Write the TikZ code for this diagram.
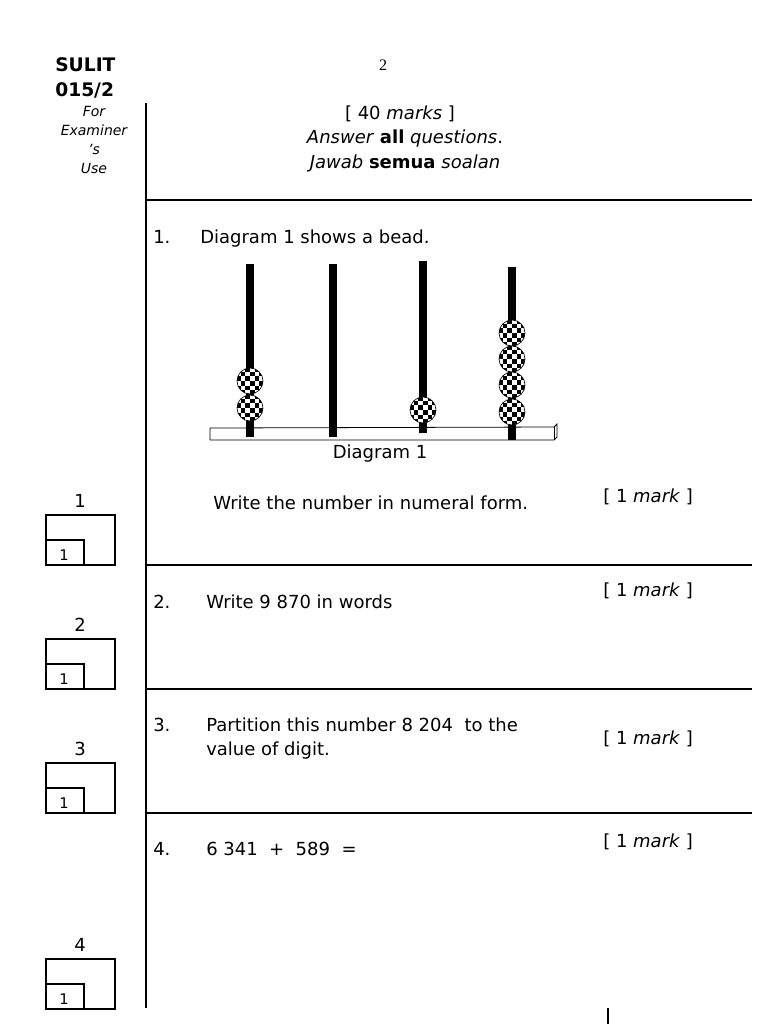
\documentclass[tikz,border=0pt]{standalone}
\usepackage{fontspec}
\setmainfont{DejaVu Sans}
\newfontfamily\serifx{Liberation Serif}
\begin{document}
\begin{tikzpicture}[x=0.75pt,y=-0.75pt,
  txt/.style={anchor=base west,inner sep=0pt,font=\fontsize{13.5}{15}\selectfont},
  ctxt/.style={anchor=base,inner sep=0pt,font=\fontsize{13.5}{15}\selectfont},
  small/.style={anchor=base,inner sep=0pt,font=\fontsize{10.5}{12}\selectfont\itshape},
  rule/.style={line width=1.2pt},
  rod/.style={line width=6pt}]
\useasboundingbox (0,0) rectangle (768,1024);
\newcommand{\mybead}[2]{%
  \begin{scope}
  \clip (#1,#2) circle (13);
  \fill[white] (#1,#2) circle (13);
  \foreach \i in {-3,...,2}{\foreach \j in {-3,...,2}{%
    \pgfmathtruncatemacro{\bpar}{mod(\i+\j+6,2)}%
    \ifnum\bpar=0 \fill[black] ({#1+\i*4.6},{#2+\j*4.6}) rectangle ++(4.6,4.6);\fi}}
  \end{scope}
  \draw[line width=0.5pt] (#1,#2) circle (13);}
% header
\node[anchor=base west,inner sep=0pt,font=\fontsize{14}{16}\selectfont\bfseries] (s1) at (55,72) {SULIT};
\node[anchor=base west,inner sep=0pt,font=\fontsize{14}{16}\selectfont\bfseries] (s2) at (55,97) {015/2};
\node[anchor=base,inner sep=0pt,font=\serifx\fontsize{12}{14}\selectfont] (pg) at (383,70) {2};
\node[small] (f1) at (94,116) {For};
\node[small] (f2) at (94,135) {Examiner};
\node[small] (f3) at (94,154) {'s};
\node[small] (f4) at (94,173) {Use};
\node[ctxt] (h1) at (400,119) {[ 40 \textit{marks} ]};
\node[ctxt] (h2) at (405,143) {\textit{Answer} \textbf{all} \textit{questions}.};
\node[ctxt] (h3) at (405,168) {\textit{Jawab} \textbf{semua} \textit{soalan}};
% lines
\draw[rule] (146,103) -- (146,1008);
\foreach \yy in {200,565,689,813} \draw[rule] (146,\yy) -- (752,\yy);
\draw[line width=1pt] (608,1008) -- (608,1024);
% examiner boxes
\foreach \n/\yt in {1/515,2/639,3/763,4/959}{
  \node[ctxt] at (80,\yt-8) {\n};
  \draw[line width=0.9pt] (46,\yt) rectangle (115,\yt+50);
  \draw[line width=0.9pt] (46,\yt+25) rectangle (84,\yt+50);
  \node[anchor=base,inner sep=0pt,font=\fontsize{11}{12}\selectfont] at (64,\yt+45) {1};
}
% question 1
\node[txt] (q1n) at (153,243) {1.};
\node[txt] (q1t) at (200,243) {Diagram 1 shows a bead.};
% abacus
\draw[line width=0.6pt,fill=white] (210,428) -- (554,427) -- (557,424) -- (557,437) -- (554,440) -- (210,440) -- cycle;
\draw[line width=0.6pt] (554,427) -- (554,440);
\draw[rod] (250,264) -- (250,437);
\draw[rod] (333,264) -- (333,437);
\draw[rod] (423,261) -- (423,433);
\draw[rod] (512,267) -- (512,440);
\mybead{250}{381}\mybead{250}{408}
\mybead{423}{410}
\mybead{512}{333}\mybead{512}{359}\mybead{512}{385}\mybead{512}{412}
\node[ctxt] (d1) at (380,458) {Diagram 1};
\node[txt] (q1w) at (213,509) {Write the number in numeral form.};
\node[txt] (m1) at (603,502) {[ 1 \textit{mark} ]};
% q2
\node[txt] (q2n) at (153,608) {2.};
\node[txt] (q2t) at (206,608) {Write 9 870 in words};
\node[txt] (m2) at (603,596) {[ 1 \textit{mark} ]};
% q3
\node[txt] (q3n) at (153,731) {3.};
\node[txt] (q3t) at (206,731) {Partition this number 8 204 \ to the};
\node[txt] (q3u) at (206,755) {value of digit.};
\node[txt] (m3) at (603,744) {[ 1 \textit{mark} ]};
% q4
\node[txt] (q4n) at (153,855) {4.};
\node[txt] (q4t) at (206,855) {6 341 \ + \ 589 \ =};
\node[txt] (m4) at (603,847) {[ 1 \textit{mark} ]};
\end{tikzpicture}
\end{document}
